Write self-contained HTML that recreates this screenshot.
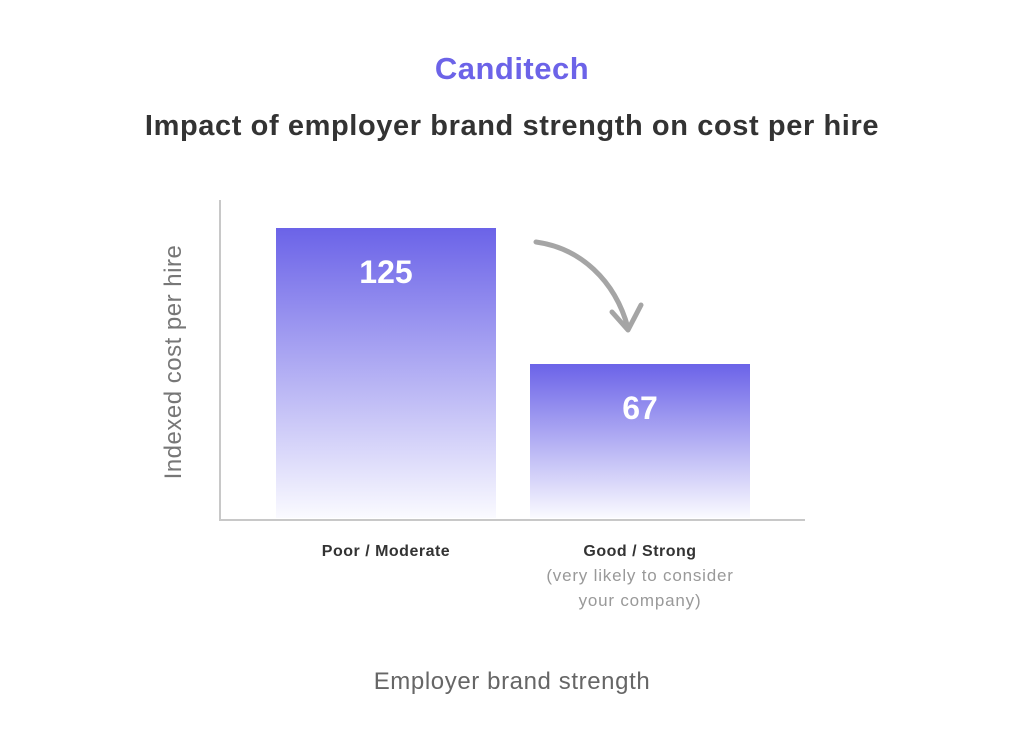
<!DOCTYPE html>
<html><head><style>
body{margin:0;width:1024px;height:753px;background:#fff;font-family:"Liberation Sans",sans-serif;position:relative;overflow:hidden}
.t{position:absolute;left:0;width:1024px;text-align:center}
.bar{position:absolute;}
</style></head><body>
<div class="t" style="top:51px;font-size:31px;font-weight:bold;color:#6c63e8;letter-spacing:0.5px">Canditech</div>
<div class="t" style="top:110px;font-size:29px;font-weight:bold;color:#333;letter-spacing:0.6px">Impact of employer brand strength on cost per hire</div>
<div style="position:absolute;left:219px;top:200px;width:2px;height:321px;background:#c8c8c8"></div>
<div style="position:absolute;left:219px;top:519px;width:586px;height:2px;background:#c8c8c8"></div>
<div class="bar" style="left:276px;top:228px;width:220px;height:290px;background:linear-gradient(#6b63e8,#fafaff)"></div>
<div class="bar" style="left:530px;top:364px;width:220px;height:154px;background:linear-gradient(#6b63e8,#fafaff)"></div>
<div style="position:absolute;left:276px;width:220px;top:254px;text-align:center;color:#fff;font-size:32px;font-weight:bold">125</div>
<div style="position:absolute;left:530px;width:220px;top:390px;text-align:center;color:#fff;font-size:32px;font-weight:bold">67</div>
<svg style="position:absolute;left:0;top:0" width="1024" height="753">
<path d="M536 242 C580 248 615 280 628 328" stroke="#a5a5a5" stroke-width="5" fill="none" stroke-linecap="round"/>
<path d="M612 312 L628 330 L641 305" stroke="#a5a5a5" stroke-width="5" fill="none" stroke-linecap="round" stroke-linejoin="round"/>
<text x="181" y="362" transform="rotate(-90 181 362)" text-anchor="middle" font-family="Liberation Sans" font-size="24" letter-spacing="0.5" fill="#777">Indexed cost per hire</text>
</svg>
<div style="position:absolute;left:256px;width:260px;top:540px;text-align:center;font-size:16px;font-weight:bold;color:#333;letter-spacing:0.5px;line-height:24px">Poor / Moderate</div>
<div style="position:absolute;left:510px;width:260px;top:540px;text-align:center;font-size:16px;font-weight:bold;color:#333;line-height:24px;letter-spacing:0.5px">Good / Strong<br><span style="font-weight:normal;color:#999;font-size:17px;letter-spacing:0.8px">(very likely to consider<br>your company)</span></div>
<div class="t" style="top:668px;font-size:24px;color:#666;letter-spacing:0.6px">Employer brand strength</div>
</body></html>
